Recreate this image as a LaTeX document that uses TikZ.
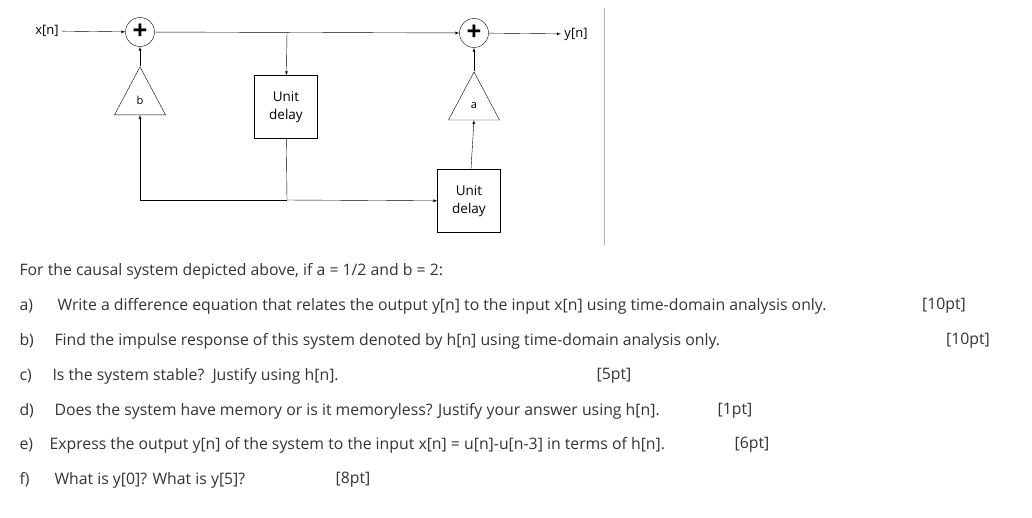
\documentclass[tikz,border=0pt]{standalone}
\usepackage{fontspec}
\setmainfont{Open Sans}
\usetikzlibrary{positioning,shapes.geometric}
\definecolor{txt}{HTML}{333333}
\tikzset{
  sum/.style={draw,circle,minimum size=29pt,inner sep=0pt,font=\fontsize{26pt}{26pt}\selectfont\bfseries},
  gain/.style={draw,isosceles triangle,shape border rotate=90,isosceles triangle stretches,minimum width=51pt,minimum height=48pt,inner sep=0pt,font=\fontsize{11pt}{11pt}\selectfont},
  delay/.style={draw,minimum width=63pt,minimum height=63pt,align=center,font=\fontsize{13.5pt}{18pt}\selectfont},
  line/.style={text=txt,anchor=west,font=\fontsize{15.8pt}{15.8pt}\selectfont},
  pts/.style={text=txt,font=\fontsize{15.8pt}{15.8pt}\selectfont}
}
\begin{document}
\begin{tikzpicture}[x=1pt,y=-1pt,>=latex]
  \useasboundingbox (0,0) rectangle (1032,517);
  \node[font=\fontsize{13pt}{13pt}\selectfont] (x) at (47,31) {x[n]};
  \node[sum] (s1) at (140,32) {\raisebox{1pt}{+}};
  \node[sum] (s2) at (474,33) {\raisebox{1pt}{+}};
  \node[font=\fontsize{13pt}{13pt}\selectfont] (y) at (576,34) {y[n]};
  \node[delay] (d1) at (286,107) {Unit\\delay};
  \node[delay] (d2) at (469,201) {Unit\\delay};
  \node[gain] (b) at (140,100) {b};
  \node[gain] (a) at (474,105) {\raisebox{-8pt}{a}};
  \coordinate (t) at (287,32);
  \coordinate (m) at (287,200);
  \coordinate (l) at (140,200);

  %forward path
  \draw[->] (x) -- (s1);
  \draw[->] (s1) -- (s2);
  \draw[->] (s2) -- (y);
  \draw[->] (t) -- (d1);
  %feedback
  \draw (d1) -- (m);
  \draw[->] (m) -- (l) -- (b.south);
  \draw[->] (b.apex) -- (s1);
  \draw[->] (m) -- (d2);
  \draw[->] (d2) -- (a.south);
  \draw[->] (a.apex) -- (s2);

  \draw[gray!60] (604,8) -- (604,245);

  \node[line] (q0) at (16,271) {For the causal system depicted above, if a = 1/2 and b = 2:};
  \node[line] (la) at (16,306) {a)};
  \node[line] (qa) at (54,306) {Write a difference equation that relates the output y[n] to the input x[n] using time-domain analysis only.};
  \node[pts] (pa) at (944,306) {[10pt]};
  \node[line] (lb) at (16,341) {b)};
  \node[line] (qb) at (51,341) {Find the impulse response of this system denoted by h[n] using time-domain analysis only.};
  \node[pts] (pb) at (968,341) {[10pt]};
  \node[line] (lc) at (16,376) {c)};
  \node[line] (qc) at (49,376) {Is the system stable?\ \ Justify using h[n].};
  \node[pts] (pc) at (614,376) {[5pt]};
  \node[line] (ld) at (16,411) {d)};
  \node[line] (qd) at (51,411) {Does the system have memory or is it memoryless? Justify your answer using h[n].};
  \node[pts] (pd) at (735,411) {[1pt]};
  \node[line] (le) at (16,445) {e)};
  \node[line] (qe) at (46,445) {Express the output y[n] of the system to the input x[n] = u[n]-u[n-3] in terms of h[n].};
  \node[pts] (pe) at (752,445) {[6pt]};
  \node[line] (lf) at (16,480) {f)};
  \node[line] (qf) at (51,480) {What is y[0]? What is y[5]?};
  \node[pts] (pf) at (353,480) {[8pt]};
\end{tikzpicture}
\end{document}
